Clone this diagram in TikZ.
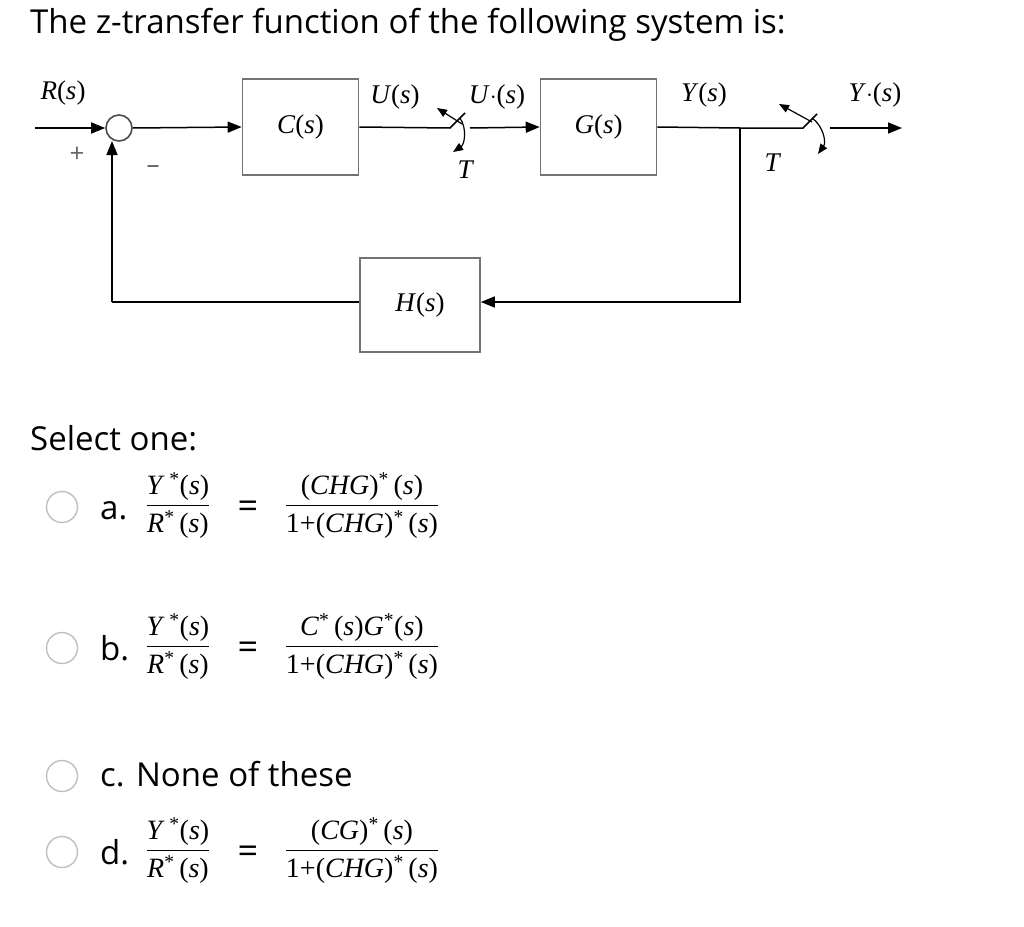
\documentclass[tikz,border=0pt]{standalone}
\usepackage{fontspec}
\setmainfont{Open Sans}
\newfontfamily\tm{Liberation Serif}
\usetikzlibrary{arrows.meta}
\newcommand\fr[2]{\begin{tabular}{@{}c@{}}#1\\[1pt]\hline\rule{0pt}{27pt}#2\end{tabular}}
\newcommand\st{\textsuperscript{*}}
\begin{document}
\begin{tikzpicture}[x=1pt,y=-1pt,
  blk/.style={draw=black!55,line width=1.6pt,minimum width=116pt,minimum height=96pt,inner sep=0pt},
  ln/.style={line width=1.5pt},
  arr/.style={ln,-{Triangle[length=14pt,width=11pt]}},
  sarr/.style={line width=1.2pt,-{Triangle[length=10pt,width=8pt]}},
  lab/.style={font=\tm\fontsize{27}{30}\selectfont,inner sep=0pt},
  txt/.style={font=\fontsize{33}{38}\selectfont,inner sep=0pt,anchor=base west},
  opt/.style={font=\fontsize{33}{36}\selectfont,inner sep=0pt,anchor=base west},
  frac/.style={font=\tm\fontsize{28}{30}\selectfont,inner sep=0pt},
  radio/.style={circle,draw=black!25,line width=1.4pt,minimum size=31pt,inner sep=0pt}]
\useasboundingbox (0,0) rectangle (1024,926);
\node[txt] (title) at (30,33) {The z-transfer function of the following system is:};
% blocks
\node[blk] (C) at (300.5,127) {};
\node[lab] at (C) {\textit{C}(\textit{s})};
\node[blk] (G) at (598.5,127) {};
\node[lab] at (G) {\textit{G}(\textit{s})};
\node[blk,minimum width=120pt,minimum height=94pt] (H) at (420,305) {};
\node[lab] at (H) {\textit{H}(\textit{s})};
\node[circle,draw=black!70,line width=1.6pt,minimum size=26pt,inner sep=0pt] (sum) at (119,128) {};
\coordinate (in) at (35,128);
\draw[arr] (in) -- (sum.west);
\draw[arr] (sum.east) -- (C.west);
% sampler 1
\coordinate (s1a) at (450,128);
\coordinate (s1b) at (465,113);
\coordinate (s1c) at (470,128);
\draw[ln] (C.east) -- (s1a) -- (s1b);
\draw[arr] (s1c) -- (G.west);
\draw[sarr] (462,124) -- (437,108);
\draw[sarr] (460,118) to[bend left=45] (453,152);
% branch
\coordinate (br) at (740,128);
\coordinate (s2a) at (803,128);
\coordinate (s2b) at (817,114);
\coordinate (s2c) at (830,128);
\coordinate (out) at (902,128);
\draw[ln] (G.east) -- (br) -- (s2a) -- (s2b);
\draw[arr] (s2c) -- (out);
\draw[sarr] (812,122) -- (779,104);
\draw[sarr] (812,118) to[bend left=45] (818,154);
\coordinate (fb1) at (740,302);
\coordinate (fb2) at (112,302);
\draw[arr] (br) -- (fb1) -- (H.east |- fb1);
\draw[ln] (H.west |- fb2) -- (fb2);
\draw[arr] (fb2) -- (112,141);
% labels
\node[lab] (lR) at (63,93) {\textit{R}(\textit{s})};
\node[font=\fontsize{26}{26}\selectfont,text=black!60] (lp) at (77,155) {+};
\node[font=\fontsize{26}{26}\selectfont,text=black!60] (lm) at (153,170) {–};
\node[lab] (lU) at (395,97) {\textit{U}(\textit{s})};
\node[lab] (lUs) at (497,97) {\textit{U}$\cdot$(\textit{s})};
\node[lab] (lT1) at (466,170) {\textit{T}};
\node[lab] (lY) at (704,95) {\textit{Y}(\textit{s})};
\node[lab] (lT2) at (773,163) {\textit{T}};
\node[lab] (lYs) at (875,95) {\textit{Y}$\cdot$(\textit{s})};
% options
\node[txt] (sel) at (30,450) {Select one:};
\foreach \y/\l/\num in {
  507/a./{(\textit{CHG})\st\,(\textit{s})},
  648/b./{\textit{C}\st\,(\textit{s})\textit{G}\st(\textit{s})},
  852/d./{(\textit{CG})\st\,(\textit{s})}}{
  \node[radio] at (62,\y) {};
  \node[opt] at (100,\y+12) {\l};
  \node[frac] at (178,\y) {\fr{\textit{Y}\,\st(\textit{s})}{\textit{R}\st\,(\textit{s})}};
  \node[font=\fontsize{36}{36}\selectfont] at (248,\y+3) {=};
  \node[frac] at (362,\y) {\fr{\num}{1+(\textit{CHG})\st\,(\textit{s})}};
}
\node[radio] (rc) at (62,776) {};
\node[opt] (oc) at (100,786) {c. None of these};
\end{tikzpicture}
\end{document}
